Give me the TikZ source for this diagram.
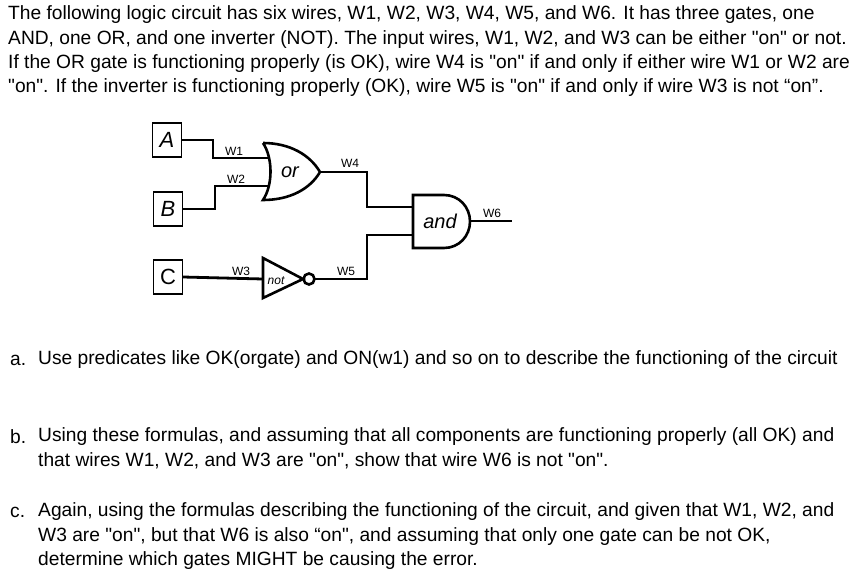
\documentclass[tikz,border=0pt]{standalone}
\usepackage{fontspec}
\setmainfont{Liberation Sans}
\newcommand{\qq}{\textquotedbl}
\begin{document}
\begin{tikzpicture}[x=1pt,y=-1pt,
  txt/.style={anchor=west,inner sep=0,font=\fontsize{19.2}{22}\selectfont},
  box/.style={draw,line width=1.2pt,minimum width=29pt,minimum height=34pt,inner sep=0,font=\fontsize{22}{24}\selectfont\itshape},
  wire/.style={line width=2.8pt},
  gate/.style={line width=2.6pt},
  lab/.style={font=\fontsize{12}{14}\selectfont,inner sep=0}]
\useasboundingbox (0,0) rectangle (856,578);
\node[txt] (t1) at (8,15) {The following logic circuit has six wires, W1, W2, W3, W4, W5, and W6. It has three gates, one};
\node[txt] (t2) at (8,40) {AND, one OR, and one inverter (NOT). The input wires, W1, W2, and W3 can be either \qq on\qq{} or not.};
\node[txt] (t3) at (8,64) {If the OR gate is functioning properly (is OK), wire W4 is \qq on\qq{} if and only if either wire W1 or W2 are};
\node[txt] (t4) at (8,88) {\qq on\qq. If the inverter is functioning properly (OK), wire W5 is \qq on\qq{} if and only if wire W3 is not “on”.};
% boxes
\node[box] (A) at (167,140) {A};
\node[box] (B) at (168,209) {B};
\node[box,font=\fontsize{22}{24}\selectfont] (C) at (168,277) {C};
% wires
\draw[wire] (A.east) -- (213,140) -- (213,158) -- (270,158);
\draw[wire] (B.east) -- (215,209) -- (215,186) -- (268,186);
\draw[wire] (C.east) -- (263,279);
% OR gate
\draw[gate,fill=white] (263,143) .. controls (290,143) and (310,155) .. (320,172) .. controls (310,189) and (290,200) .. (263,200) .. controls (273,185) and (273,158) .. (263,143);
\node[font=\fontsize{20}{22}\selectfont\itshape] (or) at (290,172) {or};
\coordinate (orout) at (320,172);
% AND gate
\draw[gate] (413,195) -- (444,195) .. controls (459,195) and (470,207) .. (470,221.5) .. controls (470,236) and (459,248) .. (444,248) -- (413,248) -- cycle;
\node[font=\fontsize{20}{22}\selectfont\itshape] (and) at (440,221) {and};
\coordinate (andout) at (470,221);
% NOT gate
\draw[gate] (263,258) -- (303,279) -- (263,298) -- cycle;
\draw[gate] (309,279) circle[radius=5.5];
\node[font=\fontsize{12}{14}\selectfont\itshape] (not) at (276,281) {not};
\coordinate (notout) at (314.5,279);
\draw[wire] (orout) -- (367,172) -- (367,207) -- (413,207);
\draw[wire] (notout) -- (367,279) -- (367,235) -- (413,235);
\draw[wire] (andout) -- (512,221);
% labels
\node[lab] (w1) at (234,151) {W1};
\node[lab] (w2) at (236,179) {W2};
\node[lab] (w4) at (350,163) {W4};
\node[lab] (w3) at (241,271) {W3};
\node[lab] (w5) at (346,271) {W5};
\node[lab] (w6) at (492,213) {W6};
% questions
\node[txt] (a1) at (10,360) {a.};
\node[txt] (a2) at (38,360) {Use predicates like OK(orgate) and ON(w1) and so on to describe the functioning of the circuit};
\node[txt] (b1) at (10,437) {b.};
\node[txt] (b2) at (38,437) {Using these formulas, and assuming that all components are functioning properly (all OK) and};
\node[txt] (b3) at (38,461) {that wires W1, W2, and W3 are \qq on\qq, show that wire W6 is not \qq on\qq.};
\node[txt] (c1) at (10,512) {c.};
\node[txt] (c2) at (38,512) {Again, using the formulas describing the functioning of the circuit, and given that W1, W2, and};
\node[txt] (c3) at (38,537) {W3 are \qq on\qq, but that W6 is also “on\qq, and assuming that only one gate can be not OK,};
\node[txt] (c4) at (38,561) {determine which gates MIGHT be causing the error.};
\end{tikzpicture}
\end{document}
